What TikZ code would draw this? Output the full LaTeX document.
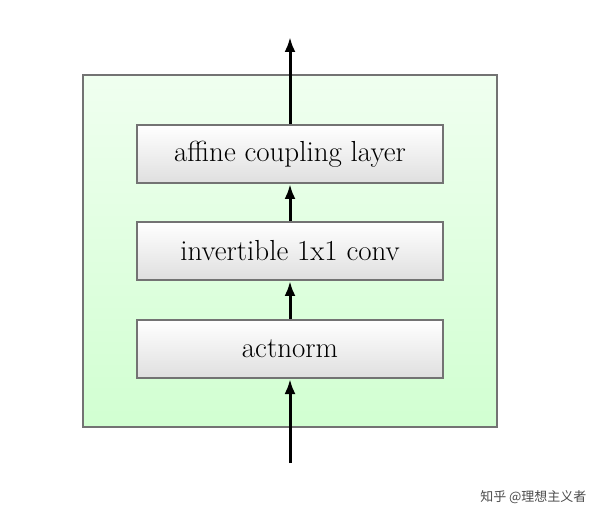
\documentclass[tikz,border=0pt]{standalone}
\usepackage{fontspec}
\newfontfamily\cjk{Noto Sans CJK SC}
\usetikzlibrary{arrows.meta}
\begin{document}
\begin{tikzpicture}[x=1pt,y=-1pt,
  layerbox/.style={draw=gray!90!black,line width=2pt,top color=white,bottom color=gray!25,
    minimum width=306pt,minimum height=58pt,inner sep=0pt,font=\fontsize{29}{34}\selectfont},
  flow/.style={line width=3pt,-{Latex[length=15pt,width=11pt]}}]
\useasboundingbox (0,0) rectangle (600,521);
\node[draw=gray!90!black,line width=2pt,top color=green!6,bottom color=green!18,
  minimum width=414pt,minimum height=352pt,inner sep=0pt] (outer) at (290,251) {};
\node[layerbox] (a) at (290,349) {actnorm};
\node[layerbox] (i) at (290,251) {invertible 1x1 conv};
\node[layerbox] (c) at (290,154) {affine coupling layer};
\coordinate (in) at (290,463);
\coordinate (out) at (290,37);
\draw[flow] (in) -- (a.south);
\draw[flow] (a.north) -- (i.south);
\draw[flow] (i.north) -- (c.south);
\draw[flow] (c.north) -- (out);
\node[text=gray!60!black,font=\cjk\fontsize{13}{16}\selectfont,anchor=east] (wm) at (590,497) {知乎 @理想主义者};
\end{tikzpicture}
\end{document}
